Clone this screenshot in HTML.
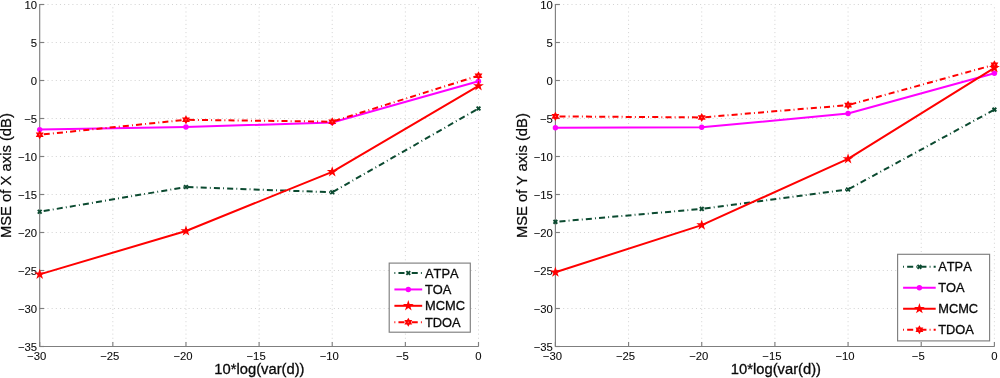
<!DOCTYPE html>
<html><head><meta charset="utf-8"><title>MSE plots</title>
<style>html,body{margin:0;padding:0;background:#fff;}body{width:1000px;height:378px;overflow:hidden;font-family:"Liberation Sans",Arial,Helvetica,sans-serif;}svg{display:block;}text{font-family:"Liberation Sans",Arial,Helvetica,sans-serif;font-kerning:none;}</style>
</head><body>
<svg width="1000" height="378" viewBox="0 0 1000 378">
<rect width="1000" height="378" fill="#fff"/>
<line x1="112.83" y1="347.00" x2="112.83" y2="4.50" stroke="#d2d2d2" stroke-width="1" stroke-dasharray="1 3.13"/>
<line x1="185.97" y1="347.00" x2="185.97" y2="4.50" stroke="#d2d2d2" stroke-width="1" stroke-dasharray="1 3.13"/>
<line x1="259.10" y1="347.00" x2="259.10" y2="4.50" stroke="#d2d2d2" stroke-width="1" stroke-dasharray="1 3.13"/>
<line x1="332.23" y1="347.00" x2="332.23" y2="4.50" stroke="#d2d2d2" stroke-width="1" stroke-dasharray="1 3.13"/>
<line x1="405.37" y1="347.00" x2="405.37" y2="4.50" stroke="#d2d2d2" stroke-width="1" stroke-dasharray="1 3.13"/>
<line x1="478.50" y1="347.00" x2="478.50" y2="4.50" stroke="#d2d2d2" stroke-width="1" stroke-dasharray="1 3.13"/>
<line x1="39.20" y1="308.50" x2="479.00" y2="308.50" stroke="#d2d2d2" stroke-width="1" stroke-dasharray="1 3.15"/>
<line x1="39.20" y1="270.50" x2="479.00" y2="270.50" stroke="#d2d2d2" stroke-width="1" stroke-dasharray="1 3.15"/>
<line x1="39.20" y1="232.50" x2="479.00" y2="232.50" stroke="#d2d2d2" stroke-width="1" stroke-dasharray="1 3.15"/>
<line x1="39.20" y1="194.50" x2="479.00" y2="194.50" stroke="#d2d2d2" stroke-width="1" stroke-dasharray="1 3.15"/>
<line x1="39.20" y1="156.50" x2="479.00" y2="156.50" stroke="#d2d2d2" stroke-width="1" stroke-dasharray="1 3.15"/>
<line x1="39.20" y1="118.50" x2="479.00" y2="118.50" stroke="#d2d2d2" stroke-width="1" stroke-dasharray="1 3.15"/>
<line x1="39.20" y1="80.50" x2="479.00" y2="80.50" stroke="#d2d2d2" stroke-width="1" stroke-dasharray="1 3.15"/>
<line x1="39.20" y1="42.50" x2="479.00" y2="42.50" stroke="#d2d2d2" stroke-width="1" stroke-dasharray="1 3.15"/>
<line x1="39.20" y1="4.50" x2="479.00" y2="4.50" stroke="#d2d2d2" stroke-width="1" stroke-dasharray="1 3.15"/>
<path d="M39.70 4.00L39.70 346.50L478.50 346.50" stroke="#7f7f7f" stroke-width="1.15" fill="none"/>
<line x1="39.70" y1="346.50" x2="39.70" y2="342.00" stroke="#7f7f7f" stroke-width="1.15"/>
<text x="36.70" y="359.6" font-size="11.3" text-anchor="middle" fill="#0a0a0a" stroke="#0a0a0a" stroke-width="0.08">−30</text>
<line x1="112.83" y1="346.50" x2="112.83" y2="342.00" stroke="#7f7f7f" stroke-width="1.15"/>
<text x="109.83" y="359.6" font-size="11.3" text-anchor="middle" fill="#0a0a0a" stroke="#0a0a0a" stroke-width="0.08">−25</text>
<line x1="185.97" y1="346.50" x2="185.97" y2="342.00" stroke="#7f7f7f" stroke-width="1.15"/>
<text x="182.97" y="359.6" font-size="11.3" text-anchor="middle" fill="#0a0a0a" stroke="#0a0a0a" stroke-width="0.08">−20</text>
<line x1="259.10" y1="346.50" x2="259.10" y2="342.00" stroke="#7f7f7f" stroke-width="1.15"/>
<text x="256.10" y="359.6" font-size="11.3" text-anchor="middle" fill="#0a0a0a" stroke="#0a0a0a" stroke-width="0.08">−15</text>
<line x1="332.23" y1="346.50" x2="332.23" y2="342.00" stroke="#7f7f7f" stroke-width="1.15"/>
<text x="329.23" y="359.6" font-size="11.3" text-anchor="middle" fill="#0a0a0a" stroke="#0a0a0a" stroke-width="0.08">−10</text>
<line x1="405.37" y1="346.50" x2="405.37" y2="342.00" stroke="#7f7f7f" stroke-width="1.15"/>
<text x="402.37" y="359.6" font-size="11.3" text-anchor="middle" fill="#0a0a0a" stroke="#0a0a0a" stroke-width="0.08">−5</text>
<line x1="478.50" y1="346.50" x2="478.50" y2="342.00" stroke="#7f7f7f" stroke-width="1.15"/>
<text x="478.50" y="359.6" font-size="11.3" text-anchor="middle" fill="#0a0a0a" stroke="#0a0a0a" stroke-width="0.08">0</text>
<line x1="39.70" y1="346.50" x2="44.20" y2="346.50" stroke="#7f7f7f" stroke-width="1.15"/>
<text x="37.10" y="350.75" font-size="11.3" text-anchor="end" fill="#0a0a0a" stroke="#0a0a0a" stroke-width="0.08">−35</text>
<line x1="39.70" y1="308.50" x2="44.20" y2="308.50" stroke="#7f7f7f" stroke-width="1.15"/>
<text x="37.10" y="312.75" font-size="11.3" text-anchor="end" fill="#0a0a0a" stroke="#0a0a0a" stroke-width="0.08">−30</text>
<line x1="39.70" y1="270.50" x2="44.20" y2="270.50" stroke="#7f7f7f" stroke-width="1.15"/>
<text x="37.10" y="274.75" font-size="11.3" text-anchor="end" fill="#0a0a0a" stroke="#0a0a0a" stroke-width="0.08">−25</text>
<line x1="39.70" y1="232.50" x2="44.20" y2="232.50" stroke="#7f7f7f" stroke-width="1.15"/>
<text x="37.10" y="236.75" font-size="11.3" text-anchor="end" fill="#0a0a0a" stroke="#0a0a0a" stroke-width="0.08">−20</text>
<line x1="39.70" y1="194.50" x2="44.20" y2="194.50" stroke="#7f7f7f" stroke-width="1.15"/>
<text x="37.10" y="198.75" font-size="11.3" text-anchor="end" fill="#0a0a0a" stroke="#0a0a0a" stroke-width="0.08">−15</text>
<line x1="39.70" y1="156.50" x2="44.20" y2="156.50" stroke="#7f7f7f" stroke-width="1.15"/>
<text x="37.10" y="160.75" font-size="11.3" text-anchor="end" fill="#0a0a0a" stroke="#0a0a0a" stroke-width="0.08">−10</text>
<line x1="39.70" y1="118.50" x2="44.20" y2="118.50" stroke="#7f7f7f" stroke-width="1.15"/>
<text x="37.10" y="122.75" font-size="11.3" text-anchor="end" fill="#0a0a0a" stroke="#0a0a0a" stroke-width="0.08">−5</text>
<line x1="39.70" y1="80.50" x2="44.20" y2="80.50" stroke="#7f7f7f" stroke-width="1.15"/>
<text x="37.10" y="84.75" font-size="11.3" text-anchor="end" fill="#0a0a0a" stroke="#0a0a0a" stroke-width="0.08">0</text>
<line x1="39.70" y1="42.50" x2="44.20" y2="42.50" stroke="#7f7f7f" stroke-width="1.15"/>
<text x="37.10" y="46.75" font-size="11.3" text-anchor="end" fill="#0a0a0a" stroke="#0a0a0a" stroke-width="0.08">5</text>
<line x1="39.70" y1="4.50" x2="44.20" y2="4.50" stroke="#7f7f7f" stroke-width="1.15"/>
<text x="37.10" y="8.75" font-size="11.3" text-anchor="end" fill="#0a0a0a" stroke="#0a0a0a" stroke-width="0.08">10</text>
<text x="259.40" y="373.8" font-size="14.75" text-anchor="middle" fill="#0a0a0a" stroke="#0a0a0a" stroke-width="0.3">10*log(var(d))</text>
<text transform="translate(10.60 175.60) rotate(-90)" font-size="14.8" text-anchor="middle" fill="#0a0a0a" stroke="#0a0a0a" stroke-width="0.22">MSE of X axis (dB)</text>
<path d="M39.70 211.75L185.97 186.98L332.23 192.30L478.50 108.47" stroke="#0b4a30" stroke-width="2" fill="none" stroke-linejoin="round" stroke-dasharray="6.05 3.15 0.9 3.15" stroke-dashoffset="9.2"/>
<path d="M37.80 209.85L41.60 213.65M37.80 213.65L41.60 209.85" stroke="#0b4a30" stroke-width="1.9" fill="none"/>
<path d="M184.07 185.08L187.87 188.88M184.07 188.88L187.87 185.08" stroke="#0b4a30" stroke-width="1.9" fill="none"/>
<path d="M330.33 190.40L334.13 194.20M330.33 194.20L334.13 190.40" stroke="#0b4a30" stroke-width="1.9" fill="none"/>
<path d="M476.60 106.57L480.40 110.37M476.60 110.37L480.40 106.57" stroke="#0b4a30" stroke-width="1.9" fill="none"/>
<path d="M39.70 129.60L185.97 127.01L332.23 122.53L478.50 81.18" stroke="#ff00ff" stroke-width="2" fill="none" stroke-linejoin="round"/>
<circle cx="39.70" cy="129.60" r="2.7" fill="#ff00ff"/>
<circle cx="185.97" cy="127.01" r="2.7" fill="#ff00ff"/>
<circle cx="332.23" cy="122.53" r="2.7" fill="#ff00ff"/>
<circle cx="478.50" cy="81.18" r="2.7" fill="#ff00ff"/>
<path d="M39.70 274.38L185.97 230.98L332.23 171.85L478.50 85.90" stroke="#ff0000" stroke-width="2" fill="none" stroke-linejoin="round"/>
<polygon points="39.70,268.68 40.98,272.61 45.12,272.61 41.77,275.05 43.05,278.99 39.70,276.55 36.35,278.99 37.63,275.05 34.28,272.61 38.42,272.61" fill="#ff0000"/>
<polygon points="185.97,225.28 187.25,229.22 191.39,229.22 188.04,231.65 189.32,235.59 185.97,233.16 182.62,235.59 183.90,231.65 180.55,229.22 184.69,229.22" fill="#ff0000"/>
<polygon points="332.23,166.15 333.51,170.09 337.65,170.09 334.30,172.52 335.58,176.46 332.23,174.03 328.88,176.46 330.16,172.52 326.81,170.09 330.95,170.09" fill="#ff0000"/>
<polygon points="478.50,80.20 479.78,84.13 483.92,84.13 480.57,86.57 481.85,90.51 478.50,88.07 475.15,90.51 476.43,86.57 473.08,84.13 477.22,84.13" fill="#ff0000"/>
<path d="M39.70 134.76L185.97 119.79L332.23 121.69L478.50 75.71" stroke="#ff0000" stroke-width="2" fill="none" stroke-linejoin="round" stroke-dasharray="6.05 3.15 0.9 3.15" stroke-dashoffset="9.2"/>
<polygon points="39.70,130.21 41.01,132.49 43.64,132.49 42.33,134.76 43.64,137.04 41.01,137.04 39.70,139.31 38.39,137.04 35.76,137.04 37.07,134.76 35.76,132.49 38.39,132.49" fill="#ff0000"/><circle cx="39.70" cy="134.76" r="0.7" fill="#ff5a5a"/>
<polygon points="185.97,115.24 187.28,117.52 189.91,117.52 188.59,119.79 189.91,122.07 187.28,122.07 185.97,124.34 184.65,122.07 182.03,122.07 183.34,119.79 182.03,117.52 184.65,117.52" fill="#ff0000"/><circle cx="185.97" cy="119.79" r="0.7" fill="#ff5a5a"/>
<polygon points="332.23,117.14 333.55,119.42 336.17,119.42 334.86,121.69 336.17,123.97 333.55,123.97 332.23,126.24 330.92,123.97 328.29,123.97 329.61,121.69 328.29,119.42 330.92,119.42" fill="#ff0000"/><circle cx="332.23" cy="121.69" r="0.7" fill="#ff5a5a"/>
<polygon points="478.50,71.16 479.81,73.44 482.44,73.44 481.13,75.71 482.44,77.99 479.81,77.99 478.50,80.26 477.19,77.99 474.56,77.99 475.87,75.71 474.56,73.44 477.19,73.44" fill="#ff0000"/><circle cx="478.50" cy="75.71" r="0.7" fill="#ff5a5a"/>
<rect x="389.20" y="263.10" width="81.10" height="69.10" fill="#fff" stroke="#7f7f7f" stroke-width="1.15"/>
<line x1="394.40" y1="273.05" x2="422.20" y2="273.05" stroke="#0b4a30" stroke-width="2" stroke-dasharray="6.05 3.15 0.9 3.15" stroke-dashoffset="9.2"/>
<path d="M406.40 271.15L410.20 274.95M406.40 274.95L410.20 271.15" stroke="#0b4a30" stroke-width="1.9" fill="none"/>
<text x="425.00" y="277.65" font-size="12.85" fill="#0a0a0a" stroke="#0a0a0a" stroke-width="0.3">ATPA</text>
<line x1="394.40" y1="289.45" x2="422.20" y2="289.45" stroke="#ff00ff" stroke-width="2"/>
<circle cx="408.30" cy="289.45" r="2.7" fill="#ff00ff"/>
<text x="425.00" y="294.05" font-size="12.85" fill="#0a0a0a" stroke="#0a0a0a" stroke-width="0.3">TOA</text>
<line x1="394.40" y1="305.80" x2="422.20" y2="305.80" stroke="#ff0000" stroke-width="2"/>
<polygon points="408.30,300.10 409.58,304.04 413.72,304.04 410.37,306.47 411.65,310.41 408.30,307.98 404.95,310.41 406.23,306.47 402.88,304.04 407.02,304.04" fill="#ff0000"/>
<text x="425.00" y="310.40" font-size="12.85" fill="#0a0a0a" stroke="#0a0a0a" stroke-width="0.3">MCMC</text>
<line x1="394.40" y1="322.30" x2="422.20" y2="322.30" stroke="#ff0000" stroke-width="2" stroke-dasharray="6.05 3.15 0.9 3.15" stroke-dashoffset="9.2"/>
<polygon points="408.30,317.75 409.61,320.03 412.24,320.03 410.93,322.30 412.24,324.57 409.61,324.57 408.30,326.85 406.99,324.57 404.36,324.57 405.67,322.30 404.36,320.03 406.99,320.03" fill="#ff0000"/><circle cx="408.30" cy="322.30" r="0.7" fill="#ff5a5a"/>
<text x="425.00" y="326.90" font-size="12.85" fill="#0a0a0a" stroke="#0a0a0a" stroke-width="0.3">TDOA</text>
<line x1="628.57" y1="347.00" x2="628.57" y2="4.50" stroke="#d2d2d2" stroke-width="1" stroke-dasharray="1 3.13"/>
<line x1="701.73" y1="347.00" x2="701.73" y2="4.50" stroke="#d2d2d2" stroke-width="1" stroke-dasharray="1 3.13"/>
<line x1="774.90" y1="347.00" x2="774.90" y2="4.50" stroke="#d2d2d2" stroke-width="1" stroke-dasharray="1 3.13"/>
<line x1="848.07" y1="347.00" x2="848.07" y2="4.50" stroke="#d2d2d2" stroke-width="1" stroke-dasharray="1 3.13"/>
<line x1="921.23" y1="347.00" x2="921.23" y2="4.50" stroke="#d2d2d2" stroke-width="1" stroke-dasharray="1 3.13"/>
<line x1="994.40" y1="347.00" x2="994.40" y2="4.50" stroke="#d2d2d2" stroke-width="1" stroke-dasharray="1 3.13"/>
<line x1="554.90" y1="308.50" x2="994.90" y2="308.50" stroke="#d2d2d2" stroke-width="1" stroke-dasharray="1 3.15"/>
<line x1="554.90" y1="270.50" x2="994.90" y2="270.50" stroke="#d2d2d2" stroke-width="1" stroke-dasharray="1 3.15"/>
<line x1="554.90" y1="232.50" x2="994.90" y2="232.50" stroke="#d2d2d2" stroke-width="1" stroke-dasharray="1 3.15"/>
<line x1="554.90" y1="194.50" x2="994.90" y2="194.50" stroke="#d2d2d2" stroke-width="1" stroke-dasharray="1 3.15"/>
<line x1="554.90" y1="156.50" x2="994.90" y2="156.50" stroke="#d2d2d2" stroke-width="1" stroke-dasharray="1 3.15"/>
<line x1="554.90" y1="118.50" x2="994.90" y2="118.50" stroke="#d2d2d2" stroke-width="1" stroke-dasharray="1 3.15"/>
<line x1="554.90" y1="80.50" x2="994.90" y2="80.50" stroke="#d2d2d2" stroke-width="1" stroke-dasharray="1 3.15"/>
<line x1="554.90" y1="42.50" x2="994.90" y2="42.50" stroke="#d2d2d2" stroke-width="1" stroke-dasharray="1 3.15"/>
<line x1="554.90" y1="4.50" x2="994.90" y2="4.50" stroke="#d2d2d2" stroke-width="1" stroke-dasharray="1 3.15"/>
<path d="M555.40 4.00L555.40 346.50L994.40 346.50" stroke="#7f7f7f" stroke-width="1.15" fill="none"/>
<line x1="555.40" y1="346.50" x2="555.40" y2="342.00" stroke="#7f7f7f" stroke-width="1.15"/>
<text x="552.40" y="359.6" font-size="11.3" text-anchor="middle" fill="#0a0a0a" stroke="#0a0a0a" stroke-width="0.08">−30</text>
<line x1="628.57" y1="346.50" x2="628.57" y2="342.00" stroke="#7f7f7f" stroke-width="1.15"/>
<text x="625.57" y="359.6" font-size="11.3" text-anchor="middle" fill="#0a0a0a" stroke="#0a0a0a" stroke-width="0.08">−25</text>
<line x1="701.73" y1="346.50" x2="701.73" y2="342.00" stroke="#7f7f7f" stroke-width="1.15"/>
<text x="698.73" y="359.6" font-size="11.3" text-anchor="middle" fill="#0a0a0a" stroke="#0a0a0a" stroke-width="0.08">−20</text>
<line x1="774.90" y1="346.50" x2="774.90" y2="342.00" stroke="#7f7f7f" stroke-width="1.15"/>
<text x="771.90" y="359.6" font-size="11.3" text-anchor="middle" fill="#0a0a0a" stroke="#0a0a0a" stroke-width="0.08">−15</text>
<line x1="848.07" y1="346.50" x2="848.07" y2="342.00" stroke="#7f7f7f" stroke-width="1.15"/>
<text x="845.07" y="359.6" font-size="11.3" text-anchor="middle" fill="#0a0a0a" stroke="#0a0a0a" stroke-width="0.08">−10</text>
<line x1="921.23" y1="346.50" x2="921.23" y2="342.00" stroke="#7f7f7f" stroke-width="1.15"/>
<text x="918.23" y="359.6" font-size="11.3" text-anchor="middle" fill="#0a0a0a" stroke="#0a0a0a" stroke-width="0.08">−5</text>
<line x1="994.40" y1="346.50" x2="994.40" y2="342.00" stroke="#7f7f7f" stroke-width="1.15"/>
<text x="994.40" y="359.6" font-size="11.3" text-anchor="middle" fill="#0a0a0a" stroke="#0a0a0a" stroke-width="0.08">0</text>
<line x1="555.40" y1="346.50" x2="559.90" y2="346.50" stroke="#7f7f7f" stroke-width="1.15"/>
<text x="552.80" y="350.75" font-size="11.3" text-anchor="end" fill="#0a0a0a" stroke="#0a0a0a" stroke-width="0.08">−35</text>
<line x1="555.40" y1="308.50" x2="559.90" y2="308.50" stroke="#7f7f7f" stroke-width="1.15"/>
<text x="552.80" y="312.75" font-size="11.3" text-anchor="end" fill="#0a0a0a" stroke="#0a0a0a" stroke-width="0.08">−30</text>
<line x1="555.40" y1="270.50" x2="559.90" y2="270.50" stroke="#7f7f7f" stroke-width="1.15"/>
<text x="552.80" y="274.75" font-size="11.3" text-anchor="end" fill="#0a0a0a" stroke="#0a0a0a" stroke-width="0.08">−25</text>
<line x1="555.40" y1="232.50" x2="559.90" y2="232.50" stroke="#7f7f7f" stroke-width="1.15"/>
<text x="552.80" y="236.75" font-size="11.3" text-anchor="end" fill="#0a0a0a" stroke="#0a0a0a" stroke-width="0.08">−20</text>
<line x1="555.40" y1="194.50" x2="559.90" y2="194.50" stroke="#7f7f7f" stroke-width="1.15"/>
<text x="552.80" y="198.75" font-size="11.3" text-anchor="end" fill="#0a0a0a" stroke="#0a0a0a" stroke-width="0.08">−15</text>
<line x1="555.40" y1="156.50" x2="559.90" y2="156.50" stroke="#7f7f7f" stroke-width="1.15"/>
<text x="552.80" y="160.75" font-size="11.3" text-anchor="end" fill="#0a0a0a" stroke="#0a0a0a" stroke-width="0.08">−10</text>
<line x1="555.40" y1="118.50" x2="559.90" y2="118.50" stroke="#7f7f7f" stroke-width="1.15"/>
<text x="552.80" y="122.75" font-size="11.3" text-anchor="end" fill="#0a0a0a" stroke="#0a0a0a" stroke-width="0.08">−5</text>
<line x1="555.40" y1="80.50" x2="559.90" y2="80.50" stroke="#7f7f7f" stroke-width="1.15"/>
<text x="552.80" y="84.75" font-size="11.3" text-anchor="end" fill="#0a0a0a" stroke="#0a0a0a" stroke-width="0.08">0</text>
<line x1="555.40" y1="42.50" x2="559.90" y2="42.50" stroke="#7f7f7f" stroke-width="1.15"/>
<text x="552.80" y="46.75" font-size="11.3" text-anchor="end" fill="#0a0a0a" stroke="#0a0a0a" stroke-width="0.08">5</text>
<line x1="555.40" y1="4.50" x2="559.90" y2="4.50" stroke="#7f7f7f" stroke-width="1.15"/>
<text x="552.80" y="8.75" font-size="11.3" text-anchor="end" fill="#0a0a0a" stroke="#0a0a0a" stroke-width="0.08">10</text>
<text x="775.90" y="373.8" font-size="14.75" text-anchor="middle" fill="#0a0a0a" stroke="#0a0a0a" stroke-width="0.3">10*log(var(d))</text>
<text transform="translate(526.50 175.60) rotate(-90)" font-size="14.8" text-anchor="middle" fill="#0a0a0a" stroke="#0a0a0a" stroke-width="0.22">MSE of Y axis (dB)</text>
<path d="M555.40 221.86L701.73 208.94L848.07 189.48L994.40 109.61" stroke="#0b4a30" stroke-width="2" fill="none" stroke-linejoin="round" stroke-dasharray="6.05 3.15 0.9 3.15" stroke-dashoffset="9.2"/>
<path d="M553.50 219.96L557.30 223.76M553.50 223.76L557.30 219.96" stroke="#0b4a30" stroke-width="1.9" fill="none"/>
<path d="M699.83 207.04L703.63 210.84M699.83 210.84L703.63 207.04" stroke="#0b4a30" stroke-width="1.9" fill="none"/>
<path d="M846.17 187.58L849.97 191.38M846.17 191.38L849.97 187.58" stroke="#0b4a30" stroke-width="1.9" fill="none"/>
<path d="M992.50 107.71L996.30 111.51M992.50 111.51L996.30 107.71" stroke="#0b4a30" stroke-width="1.9" fill="none"/>
<path d="M555.40 127.70L701.73 127.32L848.07 113.56L994.40 73.28" stroke="#ff00ff" stroke-width="2" fill="none" stroke-linejoin="round"/>
<circle cx="555.40" cy="127.70" r="2.7" fill="#ff00ff"/>
<circle cx="701.73" cy="127.32" r="2.7" fill="#ff00ff"/>
<circle cx="848.07" cy="113.56" r="2.7" fill="#ff00ff"/>
<circle cx="994.40" cy="73.28" r="2.7" fill="#ff00ff"/>
<path d="M555.40 272.25L701.73 225.13L848.07 158.93L994.40 67.88" stroke="#ff0000" stroke-width="2" fill="none" stroke-linejoin="round"/>
<polygon points="555.40,266.55 556.68,270.49 560.82,270.49 557.47,272.92 558.75,276.86 555.40,274.43 552.05,276.86 553.33,272.92 549.98,270.49 554.12,270.49" fill="#ff0000"/>
<polygon points="701.73,219.43 703.01,223.37 707.15,223.37 703.80,225.80 705.08,229.74 701.73,227.31 698.38,229.74 699.66,225.80 696.31,223.37 700.45,223.37" fill="#ff0000"/>
<polygon points="848.07,153.23 849.35,157.17 853.49,157.17 850.14,159.60 851.42,163.54 848.07,161.11 844.72,163.54 846.00,159.60 842.65,157.17 846.79,157.17" fill="#ff0000"/>
<polygon points="994.40,62.18 995.68,66.12 999.82,66.12 996.47,68.56 997.75,72.50 994.40,70.06 991.05,72.50 992.33,68.56 988.98,66.12 993.12,66.12" fill="#ff0000"/>
<path d="M555.40 116.37L701.73 117.44L848.07 105.12L994.40 64.69" stroke="#ff0000" stroke-width="2" fill="none" stroke-linejoin="round" stroke-dasharray="6.05 3.15 0.9 3.15" stroke-dashoffset="9.2"/>
<polygon points="555.40,111.82 556.71,114.10 559.34,114.10 558.03,116.37 559.34,118.65 556.71,118.65 555.40,120.92 554.09,118.65 551.46,118.65 552.77,116.37 551.46,114.10 554.09,114.10" fill="#ff0000"/><circle cx="555.40" cy="116.37" r="0.7" fill="#ff5a5a"/>
<polygon points="701.73,112.89 703.05,115.16 705.67,115.16 704.36,117.44 705.67,119.71 703.05,119.71 701.73,121.99 700.42,119.71 697.79,119.71 699.11,117.44 697.79,115.16 700.42,115.16" fill="#ff0000"/><circle cx="701.73" cy="117.44" r="0.7" fill="#ff5a5a"/>
<polygon points="848.07,100.57 849.38,102.85 852.01,102.85 850.69,105.12 852.01,107.40 849.38,107.40 848.07,109.67 846.75,107.40 844.13,107.40 845.44,105.12 844.13,102.85 846.75,102.85" fill="#ff0000"/><circle cx="848.07" cy="105.12" r="0.7" fill="#ff5a5a"/>
<polygon points="994.40,60.14 995.71,62.42 998.34,62.42 997.03,64.69 998.34,66.97 995.71,66.97 994.40,69.24 993.09,66.97 990.46,66.97 991.77,64.69 990.46,62.42 993.09,62.42" fill="#ff0000"/><circle cx="994.40" cy="64.69" r="0.7" fill="#ff5a5a"/>
<rect x="897.60" y="254.30" width="92.00" height="86.60" fill="#fff" stroke="#7f7f7f" stroke-width="1.15"/>
<line x1="903.10" y1="266.85" x2="935.70" y2="266.85" stroke="#0b4a30" stroke-width="2" stroke-dasharray="6.05 3.15 0.9 3.15" stroke-dashoffset="9.2"/>
<path d="M917.50 264.95L921.30 268.75M917.50 268.75L921.30 264.95" stroke="#0b4a30" stroke-width="1.9" fill="none"/>
<text x="938.20" y="271.45" font-size="12.85" fill="#0a0a0a" stroke="#0a0a0a" stroke-width="0.3">ATPA</text>
<line x1="903.10" y1="287.80" x2="935.70" y2="287.80" stroke="#ff00ff" stroke-width="2"/>
<circle cx="919.40" cy="287.80" r="2.7" fill="#ff00ff"/>
<text x="938.20" y="292.40" font-size="12.85" fill="#0a0a0a" stroke="#0a0a0a" stroke-width="0.3">TOA</text>
<line x1="903.10" y1="308.75" x2="935.70" y2="308.75" stroke="#ff0000" stroke-width="2"/>
<polygon points="919.40,303.05 920.68,306.99 924.82,306.99 921.47,309.42 922.75,313.36 919.40,310.93 916.05,313.36 917.33,309.42 913.98,306.99 918.12,306.99" fill="#ff0000"/>
<text x="938.20" y="313.35" font-size="12.85" fill="#0a0a0a" stroke="#0a0a0a" stroke-width="0.3">MCMC</text>
<line x1="903.10" y1="329.70" x2="935.70" y2="329.70" stroke="#ff0000" stroke-width="2" stroke-dasharray="6.05 3.15 0.9 3.15" stroke-dashoffset="9.2"/>
<polygon points="919.40,325.15 920.71,327.43 923.34,327.43 922.03,329.70 923.34,331.97 920.71,331.97 919.40,334.25 918.09,331.97 915.46,331.97 916.77,329.70 915.46,327.43 918.09,327.43" fill="#ff0000"/><circle cx="919.40" cy="329.70" r="0.7" fill="#ff5a5a"/>
<text x="938.20" y="334.30" font-size="12.85" fill="#0a0a0a" stroke="#0a0a0a" stroke-width="0.3">TDOA</text>
</svg>
</body></html>
